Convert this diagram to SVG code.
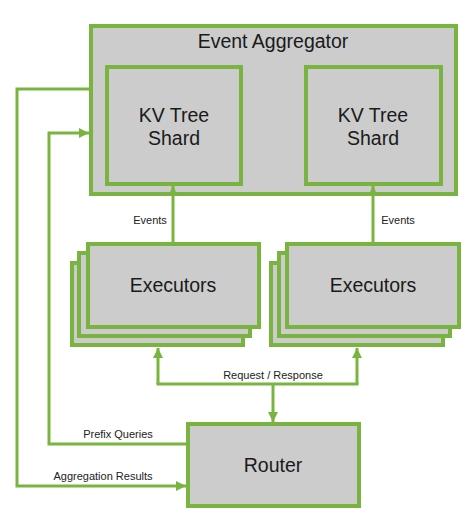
<svg xmlns="http://www.w3.org/2000/svg" width="474" height="521" viewBox="0 0 474 521">
<style>
.box{fill:#cccccc;stroke:#7ab440;stroke-width:4}
.ln{fill:none;stroke:#7ab440;stroke-width:3}
.big{font-family:"Liberation Sans",Arial,sans-serif;font-size:19.5px;fill:#1a1a1a;text-anchor:middle}
.sm{font-family:"Liberation Sans",Arial,sans-serif;font-size:11px;fill:#222;text-anchor:middle}
</style>
<defs>
<marker id="ah" viewBox="0 0 10 10" refX="10" refY="5" markerWidth="10" markerHeight="10" markerUnits="userSpaceOnUse" orient="auto">
<path d="M0,0 L10,5 L0,10 z" fill="#7ab440"/>
</marker>
</defs>
<rect width="474" height="521" fill="#ffffff"/>
<g id="event-aggregator">
<rect class="box" x="91" y="26" width="365" height="168"/>
<text class="big" x="273" y="48">Event Aggregator</text>
</g>
<g id="kv-shard-1">
<rect class="box" x="107" y="67" width="134" height="117"/>
<text class="big" x="174" y="122">KV Tree</text>
<text class="big" x="174" y="145">Shard</text>
</g>
<g id="kv-shard-2">
<rect class="box" x="306" y="67" width="135" height="117"/>
<text class="big" x="373" y="122">KV Tree</text>
<text class="big" x="373" y="145">Shard</text>
</g>
<g id="executors-1">
<rect class="box" x="72" y="263" width="171" height="82"/>
<rect class="box" x="79" y="253" width="171" height="83"/>
<rect class="box" x="88" y="244" width="171" height="83"/>
<text class="big" x="173" y="292">Executors</text>
</g>
<g id="executors-2">
<rect class="box" x="271" y="263" width="172" height="82"/>
<rect class="box" x="279" y="253" width="171" height="83"/>
<rect class="box" x="287" y="244" width="172" height="83"/>
<text class="big" x="373" y="292">Executors</text>
</g>
<g id="router">
<rect class="box" x="188" y="424" width="171" height="82"/>
<text class="big" x="273" y="472">Router</text>
</g>
<g id="connectors">
<path class="ln" d="M173,243 V186" marker-end="url(#ah)"/>
<path class="ln" d="M373,243 V186" marker-end="url(#ah)"/>
<text class="sm" x="150" y="224">Events</text>
<text class="sm" x="398" y="224">Events</text>
<path class="ln" d="M158,384 V348" marker-end="url(#ah)"/>
<path class="ln" d="M357,384 V348" marker-end="url(#ah)"/>
<path class="ln" d="M156.5,384 H358.5"/>
<path class="ln" d="M273,384 V422" marker-end="url(#ah)"/>
<text class="sm" x="273" y="379">Request / Response</text>
<path class="ln" d="M188,444 H49 V133 H89" marker-end="url(#ah)"/>
<text class="sm" x="118" y="438">Prefix Queries</text>
<path class="ln" d="M91,89 H17 V486 H186" marker-end="url(#ah)"/>
<text class="sm" x="103" y="480">Aggregation Results</text>
</g>
</svg>
